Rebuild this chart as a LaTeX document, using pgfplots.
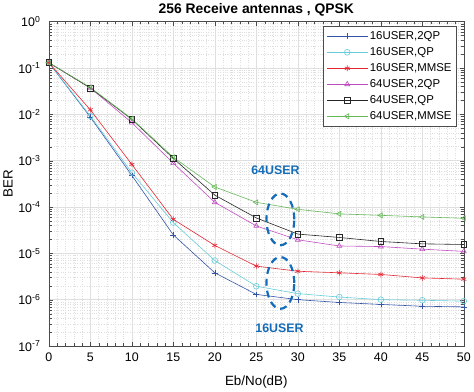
\documentclass[border=0pt]{standalone}
\usepackage{pgfplots}
\pgfplotsset{compat=1.18}
\usepackage{fontspec}
\setmainfont{Liberation Sans}
\definecolor{c1}{rgb}{0.20,0.33,0.65}
\definecolor{c2}{rgb}{0.40,0.80,0.85}
\definecolor{c3}{rgb}{0.90,0.15,0.20}
\definecolor{c4}{rgb}{0.75,0.30,0.75}
\definecolor{c5}{rgb}{0.15,0.15,0.15}
\definecolor{c6}{rgb}{0.40,0.72,0.35}
\definecolor{ann}{rgb}{0.08,0.42,0.72}
\begin{document}
\begin{tikzpicture}
\begin{axis}[
  scale only axis,
  width=417bp, height=326bp,
  ymode=log,
  xmin=0, xmax=50, ymin=1e-7, ymax=1,
  xtick={0,5,...,50},
  ytick={1e-7,1e-6,1e-5,1e-4,1e-3,1e-2,1e-1,1},
  yticklabels={10\textsuperscript{-7},10\textsuperscript{-6},10\textsuperscript{-5},10\textsuperscript{-4},10\textsuperscript{-3},10\textsuperscript{-2},10\textsuperscript{-1},10\textsuperscript{0}},
  minor x tick num=4,
  grid=both,
  major grid style={gray!25, line width=0.4pt},
  minor grid style={gray!25, dotted, line width=0.4pt},
  tick align=inside,
  tick style={black!70},
  axis line style={black!70},
  ticklabel style={font=\fontsize{12.5}{14}\selectfont},
  xticklabel style={yshift=-3bp},
  yticklabel style={xshift=-5bp},
  /pgf/number format/assume math mode=true,
  title={\textbf{256 Receive antennas , QPSK}},
  title style={font=\fontsize{14}{16}\selectfont, yshift=-4bp},
  xlabel={Eb/No(dB)}, ylabel={BER},
  label style={font=\fontsize{13.5}{16}\selectfont},
  xlabel style={yshift=-8bp},
  ylabel style={yshift=-1bp},
  legend style={at={(0.983,0.985)}, anchor=north east, font=\fontsize{11.5}{13}\selectfont, draw=black!70, row sep=2.6pt, inner sep=3pt},
  legend cell align=left,
  legend image code/.code={\draw[mark repeat=2,mark phase=2] plot coordinates {(0cm,0cm)(0.72cm,0cm)(1.44cm,0cm)};},
  every axis plot/.append style={line width=0.6pt, mark size=2.9pt},
]
\addplot[c1, mark=+] coordinates {(0,0.13)(5,0.0087)(10,4.8e-4)(15,2.5e-5)(20,3.8e-6)(25,1.3e-6)(30,1.0e-6)(35,8.7e-7)(40,7.9e-7)(45,7.2e-7)(50,7.0e-7)};
\addlegendentry{16USER,2QP}
\addplot[c2, mark=o] coordinates {(0,0.13)(5,0.0092)(10,5.5e-4)(15,4.6e-5)(20,7.0e-6)(25,1.95e-6)(30,1.35e-6)(35,1.14e-6)(40,1.0e-6)(45,9.7e-7)(50,9.3e-7)};
\addlegendentry{16USER,QP}
\addplot[c3, mark=asterisk] coordinates {(0,0.13)(5,0.0125)(10,8.3e-4)(15,5.4e-5)(20,1.48e-5)(25,5.3e-6)(30,4.1e-6)(35,3.8e-6)(40,3.5e-6)(45,2.95e-6)(50,2.77e-6)};
\addlegendentry{16USER,MMSE}
\addplot[c4, mark=triangle] coordinates {(0,0.13)(5,0.037)(10,6.6e-3)(15,8.8e-4)(20,1.26e-4)(25,3.9e-5)(30,1.96e-5)(35,1.44e-5)(40,1.4e-5)(45,1.23e-5)(50,1.1e-5)};
\addlegendentry{64USER,2QP}
\addplot[c5, mark=square] coordinates {(0,0.13)(5,0.037)(10,7.8e-3)(15,1.12e-3)(20,1.8e-4)(25,5.8e-5)(30,2.6e-5)(35,2.2e-5)(40,1.8e-5)(45,1.6e-5)(50,1.55e-5)};
\addlegendentry{64USER,QP}
\addplot[c6, mark=triangle, mark options={rotate=90}] coordinates {(0,0.13)(5,0.038)(10,8.0e-3)(15,1.18e-3)(20,2.7e-4)(25,1.26e-4)(30,8.9e-5)(35,7.1e-5)(40,6.6e-5)(45,6.1e-5)(50,5.7e-5)};
\addlegendentry{64USER,MMSE}
\draw[ann, line width=2.2pt, dash pattern=on 7bp off 5bp] (axis cs:27.9,5.4e-5) ellipse [x radius=14bp, y radius=26bp];
\draw[ann, line width=2.2pt, dash pattern=on 7bp off 5bp] (axis cs:27.9,2.3e-6) ellipse [x radius=14bp, y radius=26bp];
\node[ann, font=\bfseries\fontsize{12.5}{14}\selectfont] at (axis cs:27.3,6.3e-4) {64USER};
\node[ann, font=\bfseries\fontsize{12.5}{14}\selectfont] at (axis cs:27.8,2.45e-7) {16USER};
\end{axis}
\end{tikzpicture}
\end{document}
